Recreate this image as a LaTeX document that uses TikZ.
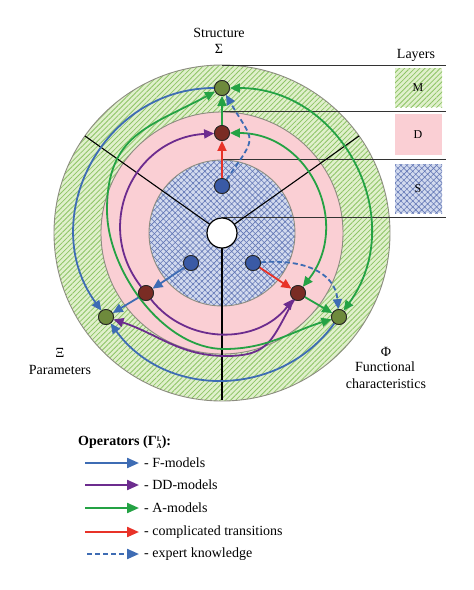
\documentclass[tikz,border=0pt]{standalone}
\usepackage{fontspec}
\setmainfont{Liberation Serif}
\usetikzlibrary{arrows.meta,patterns.meta}
\definecolor{mfill}{RGB}{224,240,204}
\definecolor{mhatch}{RGB}{142,196,102}
\definecolor{dfill}{RGB}{250,207,212}
\definecolor{sfill}{RGB}{210,218,238}
\definecolor{shatch}{RGB}{100,120,182}
\definecolor{ringline}{RGB}{140,140,128}
\definecolor{nodeM}{RGB}{110,138,60}
\definecolor{nodeD}{RGB}{122,44,36}
\definecolor{nodeS}{RGB}{58,90,165}
\definecolor{cF}{RGB}{62,108,180}
\definecolor{cDD}{RGB}{108,44,142}
\definecolor{cA}{RGB}{36,162,68}
\definecolor{cR}{RGB}{232,50,40}
\newcommand{\opscript}{\raisebox{-3.6pt}{\fontsize{7}{8.6}\selectfont\bfseries\shortstack{L\\A}}}
\begin{document}
\begin{tikzpicture}[x=1pt,y=1pt,
  font=\fontsize{14}{16}\selectfont,
  lay/.style={draw=ringline,line width=0.9pt},
  mhatchsty/.style={pattern={Lines[angle=45,distance=3.6pt,line width=0.8pt]},pattern color=mhatch},
  shatchsty/.style={pattern={Hatch[angle=45,distance=4.2pt,line width=0.6pt]},pattern color=shatch},
  sepline/.style={line width=0.9pt,black!80},
  radline/.style={line width=1.1pt,black},
  pt/.style={circle,draw=black!85,line width=0.8pt,minimum size=15pt,inner sep=0pt},
  lnk/.style={line width=1.8pt},
  fA/.style={lnk,cF,-{Triangle[length=10pt,width=9pt]}},
  eA/.style={lnk,cF,dash pattern=on 5pt off 3pt,-{Triangle[length=10pt,width=9pt]}},
  dA/.style={lnk,cDD,-{Triangle[length=10pt,width=9pt]}},
  aA/.style={lnk,cA,-{Triangle[length=10pt,width=9pt]}},
  aB/.style={lnk,cA,{Triangle[length=10pt,width=9pt]}-{Triangle[length=10pt,width=9pt]}},
  rA/.style={lnk,cR,-{Triangle[length=10pt,width=9pt]}},
  leg/.style={line width=2.2pt,-{Triangle[length=12pt,width=10pt]}},
  legtext/.style={anchor=west,inner sep=0pt}
]
\useasboundingbox (0,0) rectangle (474,-590);
\coordinate (O) at (222,-233);
% layers
\path[fill=mfill] (O) circle (168);
\path[mhatchsty] (O) circle (168);
\draw[lay] (O) circle (168);
\path[fill=dfill,lay] (O) circle (121);
\path[fill=sfill] (O) circle (73);
\path[shatchsty] (O) circle (73);
\draw[lay] (O) circle (73);
% separator lines to legend
\draw[sepline] (222,-65) -- (446,-65);
\draw[sepline] (222,-111) -- (446,-111);
\draw[sepline] (222,-159) -- (446,-159);
\draw[sepline] (222,-217) -- (446,-217);
% radial lines
\begin{scope}[shift={(222,-233)}]
\draw[radline] (0,0) -- (144.7:168);
\draw[radline] (0,0) -- (35.3:168);
\draw[radline] (0,0) -- (270:167);
\end{scope}
\node[circle,fill=white,draw=black,line width=1.2pt,minimum size=30pt,inner sep=0pt] (C) at (O) {};
% legend boxes
\path[fill=mfill] (395,-68) rectangle (442,-107);
\path[mhatchsty] (395,-68) rectangle (442,-107);
\path[fill=dfill] (395,-114) rectangle (442,-155);
\path[fill=sfill] (395,-164) rectangle (442,-213);
\path[shatchsty] (395,-164) rectangle (442,-213);
\node[font=\fontsize{12}{14}\selectfont] (lM) at (418,-88) {M};
\node[font=\fontsize{12}{14}\selectfont] (lD) at (418,-135) {D};
\node[font=\fontsize{12}{14}\selectfont] (lS) at (418,-189) {S};
\node (layers) at (416,-55) {Layers};
% labels
\node (structure) at (219,-33) {Structure};
\node (sigma) at (219,-49) {Σ};
\node (xi) at (60,-353) {Ξ};
\node (param) at (60,-370) {Parameters};
\node (phi) at (386,-352) {Φ};
\node (func) at (385,-367) {Functional};
\node (charac) at (386,-384) {characteristics};
% points
\node[pt,fill=nodeM] (TM) at (222,-88) {};
\node[pt,fill=nodeD] (TD) at (222,-133) {};
\node[pt,fill=nodeS] (TS) at (222,-186) {};
\node[pt,fill=nodeM] (LM) at (106,-317) {};
\node[pt,fill=nodeD] (LD) at (146,-293) {};
\node[pt,fill=nodeS] (LS) at (191,-263) {};
\node[pt,fill=nodeM] (RM) at (339,-317) {};
\node[pt,fill=nodeD] (RD) at (298,-293) {};
\node[pt,fill=nodeS] (RS) at (253,-263) {};
\coordinate (g1) at (107,-210);
\coordinate (g2) at (224,-349);
\coordinate (p1) at (226,-356);
% F-models
\draw[fA] (TM) to[out=180,in=126,looseness=1.15] (LM);
\draw[fA] (RM) to[out=234,in=306,looseness=1.07] (LM);
\draw[fA] (LS) -- (LD);
\draw[fA] (LD) -- (LM);
% DD-models
\draw[dA] (LD) to[out=128,in=183,looseness=1.2] (TD);
\draw[dA] (LD) to[out=308,in=232,looseness=1.05] (RD);
\draw[dA] (RD) to[out=240,in=0,looseness=1.3] (p1) to[out=180,in=342] (LM);
% A-models
\draw[aA] (TD) -- (TM);
\draw[aA] (RD) -- (RM);
\draw[aB] (TM) to[out=0,in=54,looseness=1.15] (RM);
\draw[aB] (TD) to[out=0,in=52,looseness=1.2] (RD);
\draw[aB] (TM) to[out=208,in=90,looseness=1.2] (g1) to[out=270,in=180,looseness=0.85] (g2) to[out=0,in=197] (RM);
% complicated transitions
\draw[rA] (TS) -- (TD);
\draw[rA] (RS) -- (RD);
% expert knowledge
\draw[eA] (TS) to[out=55,in=-60,looseness=1.7] (TM);
\draw[eA] (RS) to[out=5,in=95,looseness=1.1] (RM);
% redraw points on top
\foreach \n/\c in {TM/nodeM,TD/nodeD,TS/nodeS,LM/nodeM,LD/nodeD,LS/nodeS,RM/nodeM,RD/nodeD,RS/nodeS}
  \draw[fill=\c,draw=black!85,line width=0.8pt] (\n.center) circle (7.5);
% legend
\node[legtext,font=\fontsize{14}{16}\selectfont\bfseries] (ophead) at (78,-442) {Operators (Γ\opscript):};
\coordinate (a1) at (85,-463); \coordinate (b1) at (139,-463);
\coordinate (a2) at (85,-485); \coordinate (b2) at (139,-485);
\coordinate (a3) at (85,-508); \coordinate (b3) at (139,-508);
\coordinate (a4) at (85,-532); \coordinate (b4) at (139,-532);
\coordinate (a5) at (87,-554); \coordinate (b5) at (139,-554);
\draw[leg,cF] (a1) -- (b1);
\draw[leg,cDD] (a2) -- (b2);
\draw[leg,cA] (a3) -- (b3);
\draw[leg,cR] (a4) -- (b4);
\draw[leg,cF,dash pattern=on 5pt off 3pt] (a5) -- (b5);
\node[legtext] (t1) at (144,-463) {- F-models};
\node[legtext] (t2) at (144,-485) {- DD-models};
\node[legtext] (t3) at (144,-508) {- A-models};
\node[legtext] (t4) at (144,-532) {- complicated transitions};
\node[legtext] (t5) at (144,-554) {- expert knowledge};
\end{tikzpicture}
\end{document}
